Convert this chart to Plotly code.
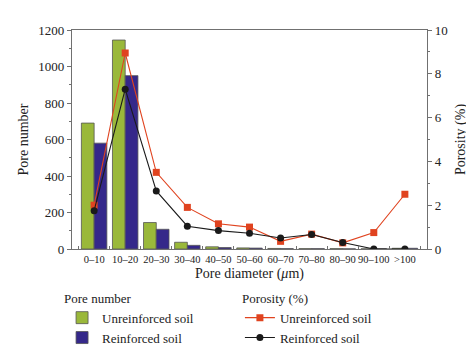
import plotly.graph_objects as go

categories = ["0–10", "10–20", "20–30", "30–40", "40–50", "50–60", "60–70", "70–80", "80–90", "90–100", ">100"]
pore_unreinforced = [690, 1145, 145, 37, 12, 6, 3, 2, 2, 1, 4]
pore_reinforced = [580, 950, 108, 20, 8, 5, 2, 2, 1, 1, 4]
por_unreinforced = [2.0, 8.95, 3.5, 1.9, 1.15, 1.0, 0.35, 0.68, 0.28, 0.75, 2.5]
por_reinforced = [1.75, 7.3, 2.65, 1.04, 0.84, 0.72, 0.5, 0.66, 0.3, 0.0, 0.0]

FONT = "Liberation Serif, Times New Roman, serif"
GREEN = "#9ab83a"
BLUE = "#35288a"
RED = "#e0431f"
BLACK = "#1a1a1a"
AXIS = "#707070"

fig = go.Figure()
fig.add_trace(go.Bar(x=categories, y=pore_unreinforced, name="Unreinforced soil",
                     marker=dict(color=GREEN, line=dict(color="#555555", width=0.8)),
                     legend="legend"))
fig.add_trace(go.Bar(x=categories, y=pore_reinforced, name="Reinforced soil",
                     marker=dict(color=BLUE, line=dict(color="#555555", width=0.8)),
                     legend="legend"))
fig.add_trace(go.Scatter(x=categories, y=por_unreinforced, name="Unreinforced soil", yaxis="y2",
                         mode="lines+markers", line=dict(color=RED, width=1.1),
                         marker=dict(symbol="square", size=7, color=RED),
                         legend="legend2"))
fig.add_trace(go.Scatter(x=categories, y=por_reinforced, name="Reinforced soil", yaxis="y2",
                         mode="lines+markers", line=dict(color=BLACK, width=1.1),
                         marker=dict(symbol="circle", size=7, color=BLACK),
                         legend="legend2"))

fig.update_layout(
    width=474, height=361,
    margin=dict(l=64, r=55, t=22, b=120),
    plot_bgcolor="white", paper_bgcolor="white",
    font=dict(family=FONT, size=12, color="#222222"),
    barmode="group", bargap=0.18, bargroupgap=0.0,
    xaxis=dict(
        title=dict(text="Pore diameter (<i>μ</i>m)", font=dict(size=14), standoff=4),
        tickfont=dict(size=10.5), tickangle=0, automargin=False,
        showline=True, linecolor=AXIS, linewidth=1.2, mirror=True,
        ticks="inside", ticklen=3, tickcolor=AXIS, tickson="boundaries",
        showgrid=False,
    ),
    yaxis=dict(
        title=dict(text="Pore number", font=dict(size=14), standoff=6),
        range=[0, 1200], dtick=200, tickfont=dict(size=13),
        showline=True, linecolor=AXIS, linewidth=1.2,
        ticks="outside", ticklen=4, tickcolor=AXIS,
        minor=dict(dtick=100, ticks="outside", ticklen=2, tickcolor=AXIS),
        showgrid=False, zeroline=False, automargin=False,
    ),
    yaxis2=dict(
        title=dict(text="Porosity (%)", font=dict(size=14), standoff=8),
        overlaying="y", side="right",
        range=[0, 10], dtick=2, tickfont=dict(size=13),
        showline=True, linecolor=AXIS, linewidth=1.2,
        ticks="outside", ticklen=4, tickcolor=AXIS,
        minor=dict(dtick=1, ticks="outside", ticklen=2, tickcolor=AXIS),
        showgrid=False, zeroline=False, automargin=False,
    ),
    legend=dict(
        title=dict(text="Pore number", font=dict(size=13)),
        x=-0.028, xref="paper", y=-0.168, yref="paper", xanchor="left", yanchor="top",
        font=dict(size=13), tracegroupgap=0, itemwidth=30,
        bgcolor="rgba(0,0,0,0)",
    ),
    legend2=dict(
        title=dict(text="Porosity (%)", font=dict(size=13)),
        x=0.473, xref="paper", y=-0.168, yref="paper", xanchor="left", yanchor="top",
        font=dict(size=13), tracegroupgap=0, itemwidth=30,
        bgcolor="rgba(0,0,0,0)",
    ),
)

fig.write_html("out.html")
